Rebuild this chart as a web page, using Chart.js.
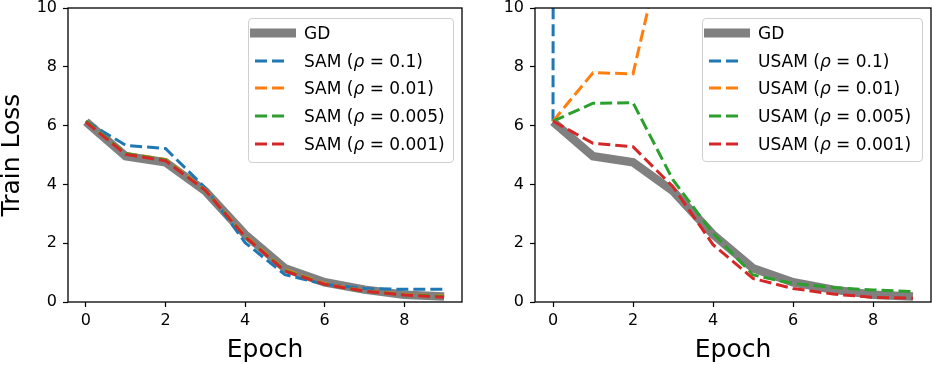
<!DOCTYPE html>
<html>
<head>
<meta charset="utf-8">
<script src="https://cdn.jsdelivr.net/npm/chart.js@4.4.1/dist/chart.umd.min.js"></script>
<style>
    html, body { margin: 0; padding: 0; background: #fff; }
    body { width: 932px; height: 365px; position: relative; overflow: hidden; font-family: "DejaVu Sans", sans-serif; }
    canvas { position: absolute; top: 0; }
    .legend {
        position: absolute;
        box-sizing: border-box;
        border: 1px solid #d0d0d0;
        border-radius: 4px;
        background: rgba(255, 255, 255, 0.8);
        font-size: 17px;
        color: #000;
        padding-top: 0;
    }
    .legend .row { height: 27.8px; display: flex; align-items: center; white-space: nowrap; }
    .legend svg { flex: none; margin-right: 6px; }
</style>
</head>
<body>
<canvas id="chart-sam" width="466" height="365" style="left:0px"></canvas>
<canvas id="chart-usam" width="466" height="365" style="left:466px"></canvas>
<div id="legend-sam" class="legend" style="left:248px; top:18px; width:206px; height:145px;"></div>
<div id="legend-usam" class="legend" style="left:702px; top:18px; width:221px; height:144px;"></div>

<script>
// Épocas (eje x)
const epochs = [0, 1, 2, 3, 4, 5, 6, 7, 8, 9];
const xTicks = [0, 2, 4, 6, 8];
const yTicks = [0, 2, 4, 6, 8, 10];

// GD (mismo en ambas gráficas)
const gdLoss = [6.13, 4.96, 4.75, 3.77, 2.3, 1.15, 0.67, 0.42, 0.25, 0.19];

// SAM (izquierda)
const samRho01 = [6.15, 5.33, 5.22, 3.88, 2.02, 0.93, 0.6, 0.46, 0.43, 0.43];
const samRho001 = [6.15, 5.05, 4.85, 3.82, 2.25, 1.1, 0.62, 0.38, 0.26, 0.2];
const samRho0005 = [6.15, 5.05, 4.83, 3.8, 2.22, 1.08, 0.6, 0.37, 0.25, 0.19];
const samRho0001 = [6.12, 5.02, 4.8, 3.8, 2.22, 1.05, 0.6, 0.37, 0.24, 0.16];

// USAM (derecha) - rho=0.1 y rho=0.01 divergen
const usamRho01 = [6.15, 10000, null, null, null, null, null, null, null, null];
const usamRho001 = [6.15, 7.8, 7.76, 13.6, null, null, null, null, null, null];
const usamRho0005 = [6.15, 6.76, 6.78, 4.15, 2.34, 0.92, 0.63, 0.49, 0.41, 0.35];
const usamRho0001 = [6.15, 5.4, 5.28, 3.92, 1.95, 0.8, 0.46, 0.27, 0.16, 0.13];

const rhoLabels = ['0.1', '0.01', '0.005', '0.001'];
const colores = ['#1f77b4', '#ff7f0e', '#2ca02c', '#d62728'];
const gris = '#808080';
const dash = [12, 5];

function toPoints(values) {
    return epochs.map((e, i) => ({ x: e, y: values[i] }));
}

function buildDatasets(prefix, series) {
    const datasets = [{
        label: 'GD',
        data: toPoints(gdLoss),
        borderColor: gris,
        borderWidth: 8.5,
        borderJoinStyle: 'miter',
        order: 10
    }];
    series.forEach((values, i) => {
        datasets.push({
            label: prefix + ' (ρ = ' + rhoLabels[i] + ')',
            data: toPoints(values),
            borderColor: colores[i],
            borderWidth: 3,
            borderDash: dash,
            order: 9 - i
        });
    });
    return datasets;
}

// Marco negro alrededor del área (como los spines de matplotlib)
const framePlugin = {
    id: 'frame',
    afterDatasetsDraw(chart) {
        const a = chart.chartArea;
        const ctx = chart.ctx;
        ctx.save();
        ctx.strokeStyle = '#000';
        ctx.lineWidth = 1.3;
        ctx.strokeRect(a.left, a.top, a.right - a.left, a.bottom - a.top);
        ctx.restore();
    }
};

function createChart(canvasId, datasets, showYTitle, yWidth, padRight) {
    const ctx = document.getElementById(canvasId).getContext('2d');
    return new Chart(ctx, {
        type: 'line',
        data: { datasets: datasets },
        options: {
            responsive: false,
            animation: false,
            layout: { padding: { top: 8, right: padRight, bottom: 0, left: 0 } },
            elements: {
                point: { radius: 0 },
                line: { tension: 0, fill: false }
            },
            plugins: {
                legend: { display: false },
                tooltip: { enabled: false }
            },
            scales: {
                x: {
                    type: 'linear',
                    min: -0.45,
                    max: 9.45,
                    afterBuildTicks: (scale) => { scale.ticks = xTicks.map(v => ({ value: v })); },
                    afterFit: (scale) => {
                        scale.height = 63;
                        scale.paddingLeft = 0;
                        scale.paddingRight = 0;
                    },
                    border: { display: false },
                    grid: { drawOnChartArea: false, drawTicks: true, tickLength: 5, color: '#000', tickWidth: 1.2 },
                    ticks: { color: '#000', font: { family: 'DejaVu Sans', size: 16 }, padding: 4, maxRotation: 0 },
                    title: {
                        display: true,
                        text: 'Epoch',
                        color: '#000',
                        font: { family: 'DejaVu Sans', size: 25, lineHeight: 1.2 },
                        padding: { top: 0, bottom: 0 }
                    }
                },
                y: {
                    type: 'linear',
                    min: 0,
                    max: 10,
                    afterBuildTicks: (scale) => { scale.ticks = yTicks.map(v => ({ value: v })); },
                    afterFit: (scale) => {
                        scale.width = yWidth;
                        scale.paddingTop = 0;
                        scale.paddingBottom = 0;
                    },
                    border: { display: false },
                    grid: { drawOnChartArea: false, drawTicks: true, tickLength: 5, color: '#000', tickWidth: 1.2 },
                    ticks: { color: '#000', font: { family: 'DejaVu Sans', size: 16 }, padding: 6 },
                    title: {
                        display: showYTitle,
                        text: 'Train Loss',
                        color: '#000',
                        font: { family: 'DejaVu Sans', size: 25, lineHeight: 1.0 },
                        padding: { top: 0, bottom: 0 }
                    }
                }
            }
        },
        plugins: [framePlugin]
    });
}

// Leyenda en HTML (dentro del área de la gráfica, arriba a la derecha)
function buildLegend(containerId, datasets) {
    const container = document.getElementById(containerId);
    container.innerHTML = '';
    datasets.forEach(ds => {
        const row = document.createElement('div');
        row.className = 'row';
        let sample;
        if (ds.borderDash) {
            sample = '<svg width="49" height="12"><line x1="6" y1="6" x2="39" y2="6" stroke="' + ds.borderColor +
                '" stroke-width="3" stroke-dasharray="' + ds.borderDash.join(' ') + '"/></svg>';
        } else {
            sample = '<svg width="49" height="12"><line x1="1" y1="6" x2="47" y2="6" stroke="' + ds.borderColor +
                '" stroke-width="9"/></svg>';
        }
        const texto = ds.label.replace('ρ', '<i>ρ</i>');
        row.innerHTML = sample + '<span>' + texto + '</span>';
        container.appendChild(row);
    });
}

const samDatasets = buildDatasets('SAM', [samRho01, samRho001, samRho0005, samRho0001]);
const usamDatasets = buildDatasets('USAM', [usamRho01, usamRho001, usamRho0005, usamRho0001]);

window.samChart = createChart('chart-sam', samDatasets, true, 68, 4);
window.usamChart = createChart('chart-usam', usamDatasets, false, 69, 1);

buildLegend('legend-sam', samDatasets);
buildLegend('legend-usam', usamDatasets);
</script>
</body>
</html>
